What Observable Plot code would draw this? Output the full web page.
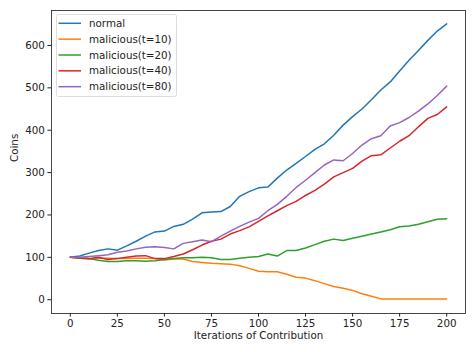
<!DOCTYPE html>
<html>
<head>
<meta charset="utf-8">
<script src="https://cdn.jsdelivr.net/npm/d3@7"></script>
<script src="https://cdn.jsdelivr.net/npm/@observablehq/plot@0.6"></script>
<style>
  html, body { margin: 0; padding: 0; background: #fff; }
  svg { display: block; }
</style>
</head>
<body>
<div id="chart"></div>
<script>
// Iteration positions at which values were read
const iterations = [0,5,10,15,20,25,30,35,40,45,50,55,60,65,70,75,80,85,90,95,100,105,110,115,120,125,130,135,140,145,150,155,160,165,170,175,180,185,190,195,200];

const seriesNames = ["normal", "malicious(t=10)", "malicious(t=20)", "malicious(t=40)", "malicious(t=80)"];
const seriesColors = ["#1f77b4", "#ff7f0e", "#2ca02c", "#d62728", "#9467bd"];

const normal = [100,103,110,116,120,117,127,138,150,160,162,173,178,190,205,207,208,220,244,255,264,266,287,306,322,338,355,368,388,412,432,450,472,495,514,540,565,588,612,634,651];
const malicious10 = [100,98,96,98,98,97,97,98,98,97,94,96,96,90,88,86,85,84,80,74,67,66,66,60,53,51,45,38,31,27,22,14,8,2,2,2,2,2,2,2,2];
const malicious20 = [100,98,97,93,90,90,92,92,91,92,95,97,99,99,100,99,95,95,98,100,102,108,103,116,116,122,130,138,143,140,145,150,155,160,165,172,174,178,184,190,191];
const malicious40 = [100,99,97,100,95,97,100,103,104,97,97,102,108,118,129,138,143,155,163,172,185,198,210,222,232,246,258,273,290,300,310,327,340,342,358,374,387,408,428,437,455];
const malicious80 = [100,100,102,104,106,112,115,120,124,125,123,120,133,137,141,137,150,162,173,183,192,210,225,244,265,282,300,318,330,328,345,365,380,387,410,418,430,445,462,482,504];

const xTicks = [0,25,50,75,100,125,150,175,200];
const yTicks = [0,100,200,300,400,500,600];

const allSeries = [normal, malicious10, malicious20, malicious40, malicious80];
const rows = [];
allSeries.forEach((vals, s) => {
  vals.forEach((v, i) => rows.push({series: seriesNames[s], iter: iterations[i], coins: v}));
});

const fontSize = "10.3px";
const chart = Plot.plot({
  width: 474,
  height: 352,
  marginLeft: 51,
  marginRight: 9,
  marginTop: 10,
  marginBottom: 39,
  style: {fontFamily: "DejaVu Sans, sans-serif", fontSize: fontSize, color: "#222", background: "#fff"},
  x: {domain: [-10, 210]},
  y: {domain: [-32.5, 682.5]},
  color: {domain: seriesNames, range: seriesColors},
  marks: [
    Plot.line(rows, {x: "iter", y: "coins", z: "series", stroke: "series", strokeWidth: 1.5, curve: "linear"}),
    Plot.frame({stroke: "#333", strokeWidth: 0.9}),
    Plot.axisX({ticks: xTicks, tickSize: 3.6, tickPadding: 3, label: null, tickFormat: d => String(d), fontSize: fontSize}),
    Plot.axisY({ticks: yTicks, tickSize: 3.6, tickPadding: 3, label: null, tickFormat: d => String(d), fontSize: fontSize}),
    Plot.text(["Iterations of Contribution"], {frameAnchor: "bottom", dy: 25, text: d => d, fontSize: fontSize, fill: "#222"}),
    Plot.text(["Coins"], {frameAnchor: "left", dx: -37, rotate: -90, text: d => d, fontSize: fontSize, fill: "#222"})
  ]
});

// Legend (inside the axes, upper left)
const svg = d3.select(chart);
const lg = svg.append("g")
  .attr("font-family", "DejaVu Sans, sans-serif")
  .attr("font-size", fontSize)
  .attr("text-anchor", "start");
lg.append("rect")
  .attr("x", 56.5).attr("y", 14.5).attr("width", 120).attr("height", 82)
  .attr("rx", 2).attr("fill", "#fff").attr("fill-opacity", 0.85)
  .attr("stroke", "#d6d6d6").attr("stroke-width", 0.8);
seriesNames.forEach((name, i) => {
  const y = 23.3 + i * 15.85;
  lg.append("line").attr("x1", 58.5).attr("x2", 81).attr("y1", y).attr("y2", y)
    .attr("stroke", seriesColors[i]).attr("stroke-width", 1.5);
  lg.append("text").attr("x", 89).attr("y", y).attr("dy", "0.35em")
    .attr("text-anchor", "start").attr("fill", "#222").text(name);
});

document.getElementById("chart").appendChild(chart);
</script>
</body>
</html>
